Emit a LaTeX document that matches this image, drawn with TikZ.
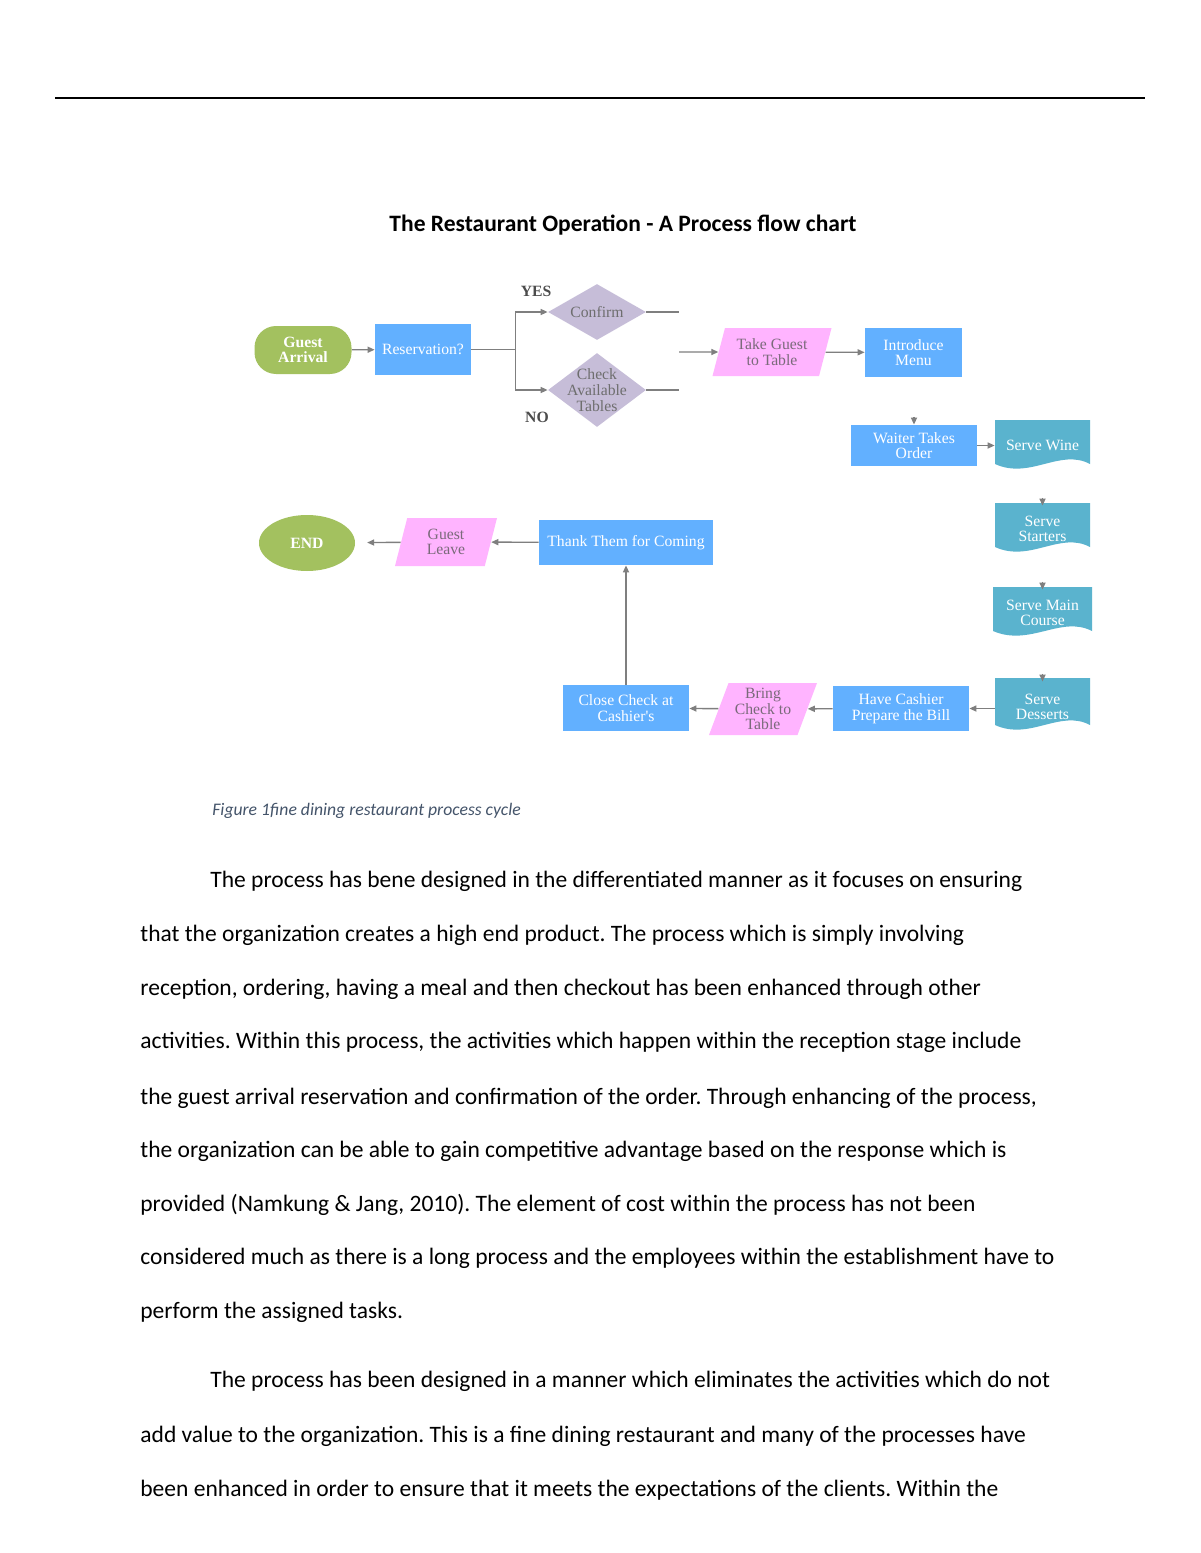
\documentclass[tikz,border=0pt]{standalone}
\usepackage{fontspec}
\setmainfont{Carlito}
\newfontfamily\diagfont{Liberation Serif}
\usetikzlibrary{shapes.geometric,arrows.meta,calc}
\newdimen\pxu \pxu=0.51pt
\definecolor{boxblue}{HTML}{62B0FF}
\definecolor{greenc}{HTML}{A3C15F}
\definecolor{lav}{HTML}{C6BDD8}
\definecolor{pinkc}{HTML}{FFB4FF}
\definecolor{tealc}{HTML}{5AB3CE}
\definecolor{linegray}{HTML}{7F7F7F}
\definecolor{diatextc}{HTML}{6E6E6E}
\definecolor{paratext}{HTML}{7A6A7A}
\definecolor{capc}{HTML}{44546A}
\frenchspacing
\begin{document}
\begin{tikzpicture}[x=1\pxu,y=-1\pxu,
  flow/.style={font=\diagfont\fontsize{8}{8}\selectfont, align=center, inner sep=0pt},
  bluebox/.style={flow, rectangle, fill=boxblue, text=white},
  greenbox/.style={flow, fill=greenc, text=white, font=\diagfont\bfseries\fontsize{8}{7.8}\selectfont},
  parabox/.style={flow, trapezium, trapezium left angle=65, trapezium right angle=115, trapezium stretches body, fill=pinkc, text=paratext},
  dia/.style={diamond, fill=lav, inner sep=0pt},
  diatext/.style={flow, text=diatextc},
  docbox/.style={flow, rectangle, text=white},
  lbl/.style={font=\diagfont\bfseries\fontsize{8}{8}\selectfont, text=black!70, inner sep=0pt},
  line/.style={draw=linegray, line width=0.7pt},
  arr/.style={line, -{Triangle[length=3.6pt,width=3.1pt]}},
  bodytext/.style={anchor=base west, inner sep=0pt, font=\fontsize{12}{14}\selectfont},
]
\useasboundingbox (0,0) rectangle (1200,1553);
\fill[white] (0,0) rectangle (1200,1553);
% header rule
\draw[line width=1.5pt] (55,98) -- (1145,98);
% title
\node[anchor=base, inner sep=0pt, font=\bfseries\fontsize{12}{14}\selectfont] (title) at (623,232) {The Restaurant Operation - A Process flow chart};

% document shapes (fills)
\fill[tealc] (995,420) -- (1090,420) -- (1090,464) .. controls (1060,448) and (1030,480) .. (995,464) -- cycle;
\fill[tealc] (995,503) -- (1090,503) -- (1090,547) .. controls (1060,531) and (1030,563) .. (995,547) -- cycle;
\fill[tealc] (993,587) -- (1092,587) -- (1092,631) .. controls (1061,615) and (1030,647) .. (993,631) -- cycle;
\fill[tealc] (995,678) -- (1090,678) -- (1090,725) .. controls (1060,709) and (1030,741) .. (995,725) -- cycle;

% nodes
\node[greenbox, rounded corners=11pt, minimum width=97\pxu, minimum height=48\pxu] (ga) at (303,350) {Guest\\Arrival};
\node[bluebox, minimum width=96\pxu, minimum height=51\pxu] (res) at (423,349.5) {Reservation?};
\node[dia, minimum width=98\pxu, minimum height=56\pxu] (cf) at (597,312) {};
\node[diatext] at (cf.center) {Confirm};
\node[dia, minimum width=98\pxu, minimum height=74\pxu] (ck) at (597,390) {};
\node[diatext] at (ck.center) {Check\\Available\\Tables};
\node[lbl] (yes) at (536,291) {YES};
\node[lbl] (no) at (537,417) {NO};
\node[parabox, minimum width=119\pxu, minimum height=48\pxu] (tg) at (772,352) {Take Guest\\to Table};
\node[bluebox, minimum width=97\pxu, minimum height=49\pxu] (im) at (913.5,352.5) {Introduce\\Menu};
\node[bluebox, minimum width=126\pxu, minimum height=41\pxu] (wt) at (914,445.5) {Waiter Takes\\Order};
\node[docbox, minimum width=95\pxu, minimum height=44\pxu] (sw) at (1042.5,445) {Serve Wine};
\node[docbox, minimum width=95\pxu, minimum height=46\pxu] (ss) at (1042.5,529) {Serve\\Starters};
\node[docbox, minimum width=99\pxu, minimum height=46\pxu] (sm) at (1042.5,613) {Serve Main\\Course};
\node[docbox, minimum width=95\pxu, minimum height=50\pxu] (sd) at (1042.5,707) {Serve\\Desserts};
\node[bluebox, minimum width=136\pxu, minimum height=45\pxu] (hc) at (901,708.5) {Have Cashier\\Prepare the Bill};
\node[parabox, minimum width=108\pxu, minimum height=52\pxu] (bc) at (763,709) {Bring\\Check to\\Table};
\node[bluebox, minimum width=126\pxu, minimum height=46\pxu] (cc) at (626,708) {Close Check at\\Cashier's};
\node[bluebox, minimum width=174\pxu, minimum height=45\pxu] (tt) at (626,542.5) {Thank Them for Coming};
\node[parabox, minimum width=102\pxu, minimum height=48\pxu] (gl) at (446,542) {Guest\\Leave};
\node[greenbox, ellipse, minimum width=96\pxu, minimum height=56\pxu] (end) at (307,543) {END};

% connectors
\draw[arr] (ga) -- (res);
\draw[line] (res.east) -- ++(44,0) coordinate (br);
\draw[arr] (br) |- (cf.west);
\draw[arr] (br) |- (ck.west);
\draw[line] (cf.east) -- ++(33,0) coordinate (cfo);
\draw[line] (ck.east) -- ++(33,0) coordinate (cko);
\coordinate (jn) at (679,352);
\draw[arr] (jn) -- (tg);
\draw[arr] (tg) -- (im);
\draw[arr] ([yshift=4pt]wt.north) -- (wt.north);
\draw[arr] (wt.east) -- (wt.east -| sw.west);
\draw[arr] ([yshift=4pt]ss.north) -- (ss.north);
\draw[arr] ([yshift=4pt]sm.north) -- (sm.north);
\draw[arr] ([yshift=4pt]sd.north) -- (sd.north);
\draw[arr] (sd.west |- hc.east) -- (hc.east);
\draw[arr] (hc) -- (bc);
\draw[arr] (bc) -- (cc);
\draw[arr] (cc) -- (tt);
\draw[arr] (tt) -- (gl);
\draw[arr, shorten >=6pt] (gl) -- (end);

% caption
\node[anchor=base west, inner sep=0pt, text=capc, font=\itshape\fontsize{9}{11}\selectfont] (cap) at (212,815) {Figure 1fine dining restaurant process cycle};

% body text
\node[bodytext] (l1) at (210,887) {The process has bene designed in the differentiated manner as it focuses on ensuring};
\node[bodytext] (l2) at (140,941) {that the organization creates a high end product. The process which is simply involving};
\node[bodytext] (l3) at (140,995) {reception, ordering, having a meal and then checkout has been enhanced through other};
\node[bodytext] (l4) at (140,1048) {activities. Within this process, the activities which happen within the reception stage include};
\node[bodytext] (l5) at (140,1104) {the guest arrival reservation and confirmation of the order. Through enhancing of the process,};
\node[bodytext] (l6) at (140,1157) {the organization can be able to gain competitive advantage based on the response which is};
\node[bodytext] (l7) at (140,1211) {provided (Namkung \& Jang, 2010). The element of cost within the process has not been};
\node[bodytext] (l8) at (140,1264) {considered much as there is a long process and the employees within the establishment have to};
\node[bodytext] (l9) at (140,1318) {perform the assigned tasks.};
\node[bodytext] (m1) at (210,1387) {The process has been designed in a manner which eliminates the activities which do not};
\node[bodytext] (m2) at (140,1442) {add value to the organization. This is a fine dining restaurant and many of the processes have};
\node[bodytext] (m3) at (140,1496) {been enhanced in order to ensure that it meets the expectations of the clients. Within the};
\end{tikzpicture}
\end{document}
